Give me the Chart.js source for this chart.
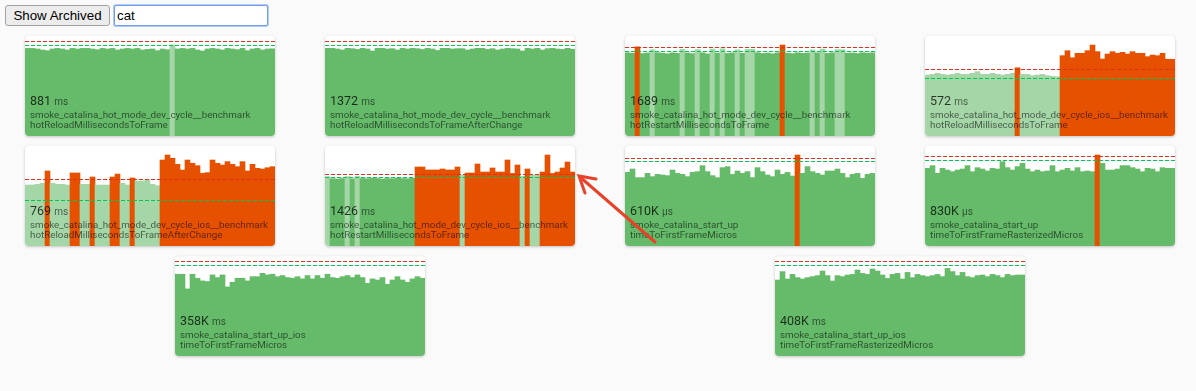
<!DOCTYPE html>
<html>
<head>
<meta charset="utf-8">
<script src="https://cdn.jsdelivr.net/npm/chart.js@4.4.1/dist/chart.umd.min.js"></script>
<style>
  html, body { margin: 0; background: #fafafa; overflow: hidden; }
  body { width: 1196px; height: 391px; position: relative; font-family: Roboto, sans-serif; }
  .toolbar { position: absolute; left: 5px; top: 5px; display: flex; gap: 4px; }
  .toolbar button {
    font: 13.33px Arial, "Liberation Sans", sans-serif; color: #000;
    height: 21px; width: 105px; padding: 0; box-sizing: border-box;
    background: #ececec; border: 1px solid #a3a3a3; border-radius: 3px;
  }
  .toolbar input {
    font: 13.33px Arial, "Liberation Sans", sans-serif; color: #000;
    height: 21px; width: 154px; box-sizing: border-box; padding: 1px 2px;
    border: 1px solid #6f9de9; box-shadow: 0 0 0 1px #b4ccf3; border-radius: 2px; outline: none;
  }
  .grid {
    position: absolute; top: 36px; left: 0; width: 1200px;
    display: flex; flex-wrap: wrap; justify-content: space-around; row-gap: 10px;
  }
  .card {
    position: relative; width: 250px; height: 100px; background: #fff;
    border-radius: 4px; overflow: hidden; box-shadow: 0 1px 3px rgba(0,0,0,0.22);
  }
  .card canvas { display: block; }
  .info { position: absolute; left: 5px; bottom: 6px; pointer-events: none; white-space: nowrap; }
  .info .num { font-size: 12.5px; line-height: 13px; margin-bottom: 2px; color: rgba(0,0,0,0.75); }
  .info .unit { font-size: 10px; color: rgba(0,0,0,0.58); }
  .info .name { font-size: 9.8px; line-height: 10px; color: rgba(0,0,0,0.58); }
  svg.note { position: absolute; left: 0; top: 0; pointer-events: none; }
</style>
</head>
<body>
<div class="toolbar">
  <button>Show Archived</button>
  <input type="text" value="cat">
</div>
<div class="grid" id="grid"></div>
<svg class="note" width="1196" height="391">
  <g stroke="#e8432a" stroke-width="3" stroke-linecap="round" fill="none">
    <line x1="655" y1="242" x2="580" y2="177"/>
    <polyline points="596,179 579,176 585,193"/>
  </g>
</svg>

<script>
const taskNames = [
  'smoke_catalina_hot_mode_dev_cycle__benchmark',
  'smoke_catalina_hot_mode_dev_cycle__benchmark',
  'smoke_catalina_hot_mode_dev_cycle__benchmark',
  'smoke_catalina_hot_mode_dev_cycle_ios__benchmark',
  'smoke_catalina_hot_mode_dev_cycle_ios__benchmark',
  'smoke_catalina_hot_mode_dev_cycle_ios__benchmark',
  'smoke_catalina_start_up',
  'smoke_catalina_start_up',
  'smoke_catalina_start_up_ios',
  'smoke_catalina_start_up_ios'
];
const metricNames = [
  'hotReloadMillisecondsToFrame',
  'hotReloadMillisecondsToFrameAfterChange',
  'hotRestartMillisecondsToFrame',
  'hotReloadMillisecondsToFrame',
  'hotReloadMillisecondsToFrameAfterChange',
  'hotRestartMillisecondsToFrame',
  'timeToFirstFrameMicros',
  'timeToFirstFrameRasterizedMicros',
  'timeToFirstFrameMicros',
  'timeToFirstFrameRasterizedMicros'
];
const headlineValues = ['881', '1372', '1689', '572', '769', '1426', '610K', '830K', '358K', '408K'];
const unitLabels = ['ms', 'ms', 'ms', 'ms', 'ms', 'ms', 'μs', 'μs', 'ms', 'ms'];

// axis top, regression (upper) and improvement (lower) baselines, in each metric's units
const axisMax = [1010, 1580, 2030, 920, 1220, 2110, 800000, 1090000, 450000, 500000];
const upperThresholds = [960, 1501, 1800, 616, 813, 1519, 701000, 981000, 427000, 475000];
const lowerThresholds = [916, 1433, 1733, 531, 561, 1450, 680000, 937000, 408000, 453000];

const hotReloadMac = [885, 885, 879, 869, 862, 879, 885, 879, 869, 885, 879, 885, 885, 879, 872, 885, 879, 885, 869, 879,
  885, 879, 885, 869, 875, 879, 862, 879, 872, 920, 879, 885, 879, 885, 869, 859, 879, 885, 879, 869,
  885, 879, 872, 885, 862, 879, 885, 869, 879, 881];
const hotReloadAfterChangeMac = [1385, 1385, 1375, 1359, 1385, 1380, 1368, 1385, 1375, 1343, 1385, 1385, 1375, 1380, 1359, 1385, 1375, 1385, 1380, 1368,
  1385, 1375, 1352, 1385, 1385, 1375, 1380, 1380, 1359, 1375, 1385, 1385, 1368, 1380, 1359, 1375, 1385, 1380, 1375, 1343,
  1385, 1375, 1385, 1359, 1380, 1385, 1375, 1368, 1385, 1372];
const hotRestartMac = [1690, 1680, 1810, 1675, 1685, 1750, 1690, 1682, 1670, 1688, 1678, 1760, 1685, 1672, 1755, 1690, 1668, 1765, 1684, 1770,
  1676, 1688, 1750, 1680, 1758, 1762, 1690, 1676, 1684, 1670, 1688, 1847, 1680, 1672, 1690, 1678, 1685, 1748, 1688, 1765,
  1676, 1690, 1752, 1752, 1680, 1686, 1674, 1690, 1682, 1689];
const hotReloadIos = [561, 567, 577, 567, 561, 567, 577, 567, 567, 577, 592, 567, 567, 577, 567, 561, 567, 577, 628, 567,
  567, 555, 561, 567, 555, 549, 546, 739, 785, 720, 761, 761, 785, 837, 776, 708, 754, 776, 761, 770,
  754, 776, 761, 761, 730, 745, 739, 761, 706, 706];
const hotReloadAfterChangeIos = [744, 744, 752, 765, 915, 765, 752, 752, 744, 891, 891, 752, 752, 842, 744, 744, 744, 842, 878, 765,
  744, 830, 793, 793, 805, 752, 736, 1049, 1110, 1070, 997, 927, 1049, 1009, 980, 887, 895, 1049, 1009, 988,
  1029, 997, 968, 1029, 915, 997, 948, 939, 955, 968];
const hotRestartIos = [1465, 1420, 1414, 1424, 1465, 1418, 1468, 1424, 1420, 1428, 1424, 1414, 1424, 1420, 1428, 1424, 1420, 1426, 1667, 1667,
  1604, 1604, 1604, 1625, 1604, 1604, 1667, 1492, 1540, 1540, 1730, 1561, 1561, 1646, 1561, 1561, 1815, 1530, 1709, 1471,
  1625, 1492, 1492, 1561, 1920, 1530, 1561, 1646, 1772, 1561];
const firstFrameMac = [589, 616, 547, 547, 581, 555, 573, 568, 563, 608, 581, 573, 555, 589, 595, 643, 595, 563, 547, 627,
  635, 573, 600, 581, 595, 547, 627, 595, 568, 555, 608, 573, 589, 560, 728, 581, 635, 595, 581, 568,
  600, 600, 616, 581, 547, 573, 581, 541, 573, 581].map(k => k * 1000);
const firstFrameRasterizedMac = [847, 876, 792, 847, 828, 810, 828, 839, 876, 810, 854, 839, 818, 847, 839, 919, 854, 828, 865, 901,
  839, 810, 828, 810, 818, 876, 810, 828, 847, 818, 854, 810, 818, 810, 992, 901, 828, 828, 839, 876,
  876, 854, 839, 810, 847, 839, 810, 854, 847, 847].map(k => k * 1000);
const firstFrameIos = [368, 368, 302, 368, 350, 338, 335, 365, 353, 365, 311, 332, 350, 350, 338, 357, 357, 372, 365, 368,
  357, 362, 353, 350, 357, 347, 362, 347, 362, 350, 368, 353, 350, 357, 362, 353, 365, 353, 327, 347,
  342, 353, 323, 342, 357, 342, 332, 347, 357, 350].map(k => k * 1000);
const firstFrameRasterizedIos = [380, 422, 385, 408, 392, 385, 392, 397, 402, 425, 402, 375, 402, 397, 405, 408, 430, 413, 408, 435,
  425, 405, 388, 408, 413, 385, 418, 392, 408, 402, 397, 402, 408, 397, 438, 422, 402, 418, 397, 392,
  402, 405, 397, 408, 402, 392, 408, 402, 405, 405].map(k => k * 1000);

const seriesList = [hotReloadMac, hotReloadAfterChangeMac, hotRestartMac, hotReloadIos, hotReloadAfterChangeIos,
  hotRestartIos, firstFrameMac, firstFrameRasterizedMac, firstFrameIos, firstFrameRasterizedIos];

const GREEN = '#66bb6a';
const LIGHT_GREEN = '#a5d6a7';
const ORANGE = '#e65100';

const thresholdLines = {
  id: 'thresholdLines',
  afterDatasetsDraw(chart, args, opts) {
    const { ctx, chartArea, scales: { y } } = chart;
    ctx.save();
    ctx.lineWidth = 1;
    ctx.setLineDash([4, 2]);
    [[opts.upper, '#e0301e'], [opts.lower, '#00c853']].forEach(([v, color]) => {
      const py = Math.round(y.getPixelForValue(v)) + 0.5;
      ctx.strokeStyle = color;
      ctx.beginPath();
      ctx.moveTo(chartArea.left, py);
      ctx.lineTo(chartArea.right, py);
      ctx.stroke();
    });
    ctx.restore();
  }
};

function barColor(v, upper, lower) {
  if (v > upper) return ORANGE;
  if (v > lower) return LIGHT_GREEN;
  return GREEN;
}

const grid = document.getElementById('grid');

seriesList.forEach((values, i) => {
  const card = document.createElement('div');
  card.className = 'card';
  const canvas = document.createElement('canvas');
  canvas.width = 250;
  canvas.height = 100;
  card.appendChild(canvas);

  const info = document.createElement('div');
  info.className = 'info';
  info.innerHTML =
    '<div class="num">' + headlineValues[i] + ' <span class="unit">' + unitLabels[i] + '</span></div>' +
    '<div class="name">' + taskNames[i] + '</div>' +
    '<div class="name">' + metricNames[i] + '</div>';
  card.appendChild(info);
  grid.appendChild(card);

  const upper = upperThresholds[i];
  const lower = lowerThresholds[i];

  new Chart(canvas, {
    type: 'bar',
    data: {
      labels: values.map((_, j) => j + 1),
      datasets: [{
        data: values,
        backgroundColor: values.map(v => barColor(v, upper, lower)),
        borderWidth: 0,
        barPercentage: 1,
        categoryPercentage: 1
      }]
    },
    options: {
      responsive: false,
      animation: false,
      events: [],
      layout: { padding: 0 },
      scales: {
        x: { display: false },
        y: { display: false, min: 0, max: axisMax[i] }
      },
      plugins: {
        legend: { display: false },
        tooltip: { enabled: false },
        thresholdLines: { upper, lower }
      }
    },
    plugins: [thresholdLines]
  });
});
</script>
</body>
</html>
